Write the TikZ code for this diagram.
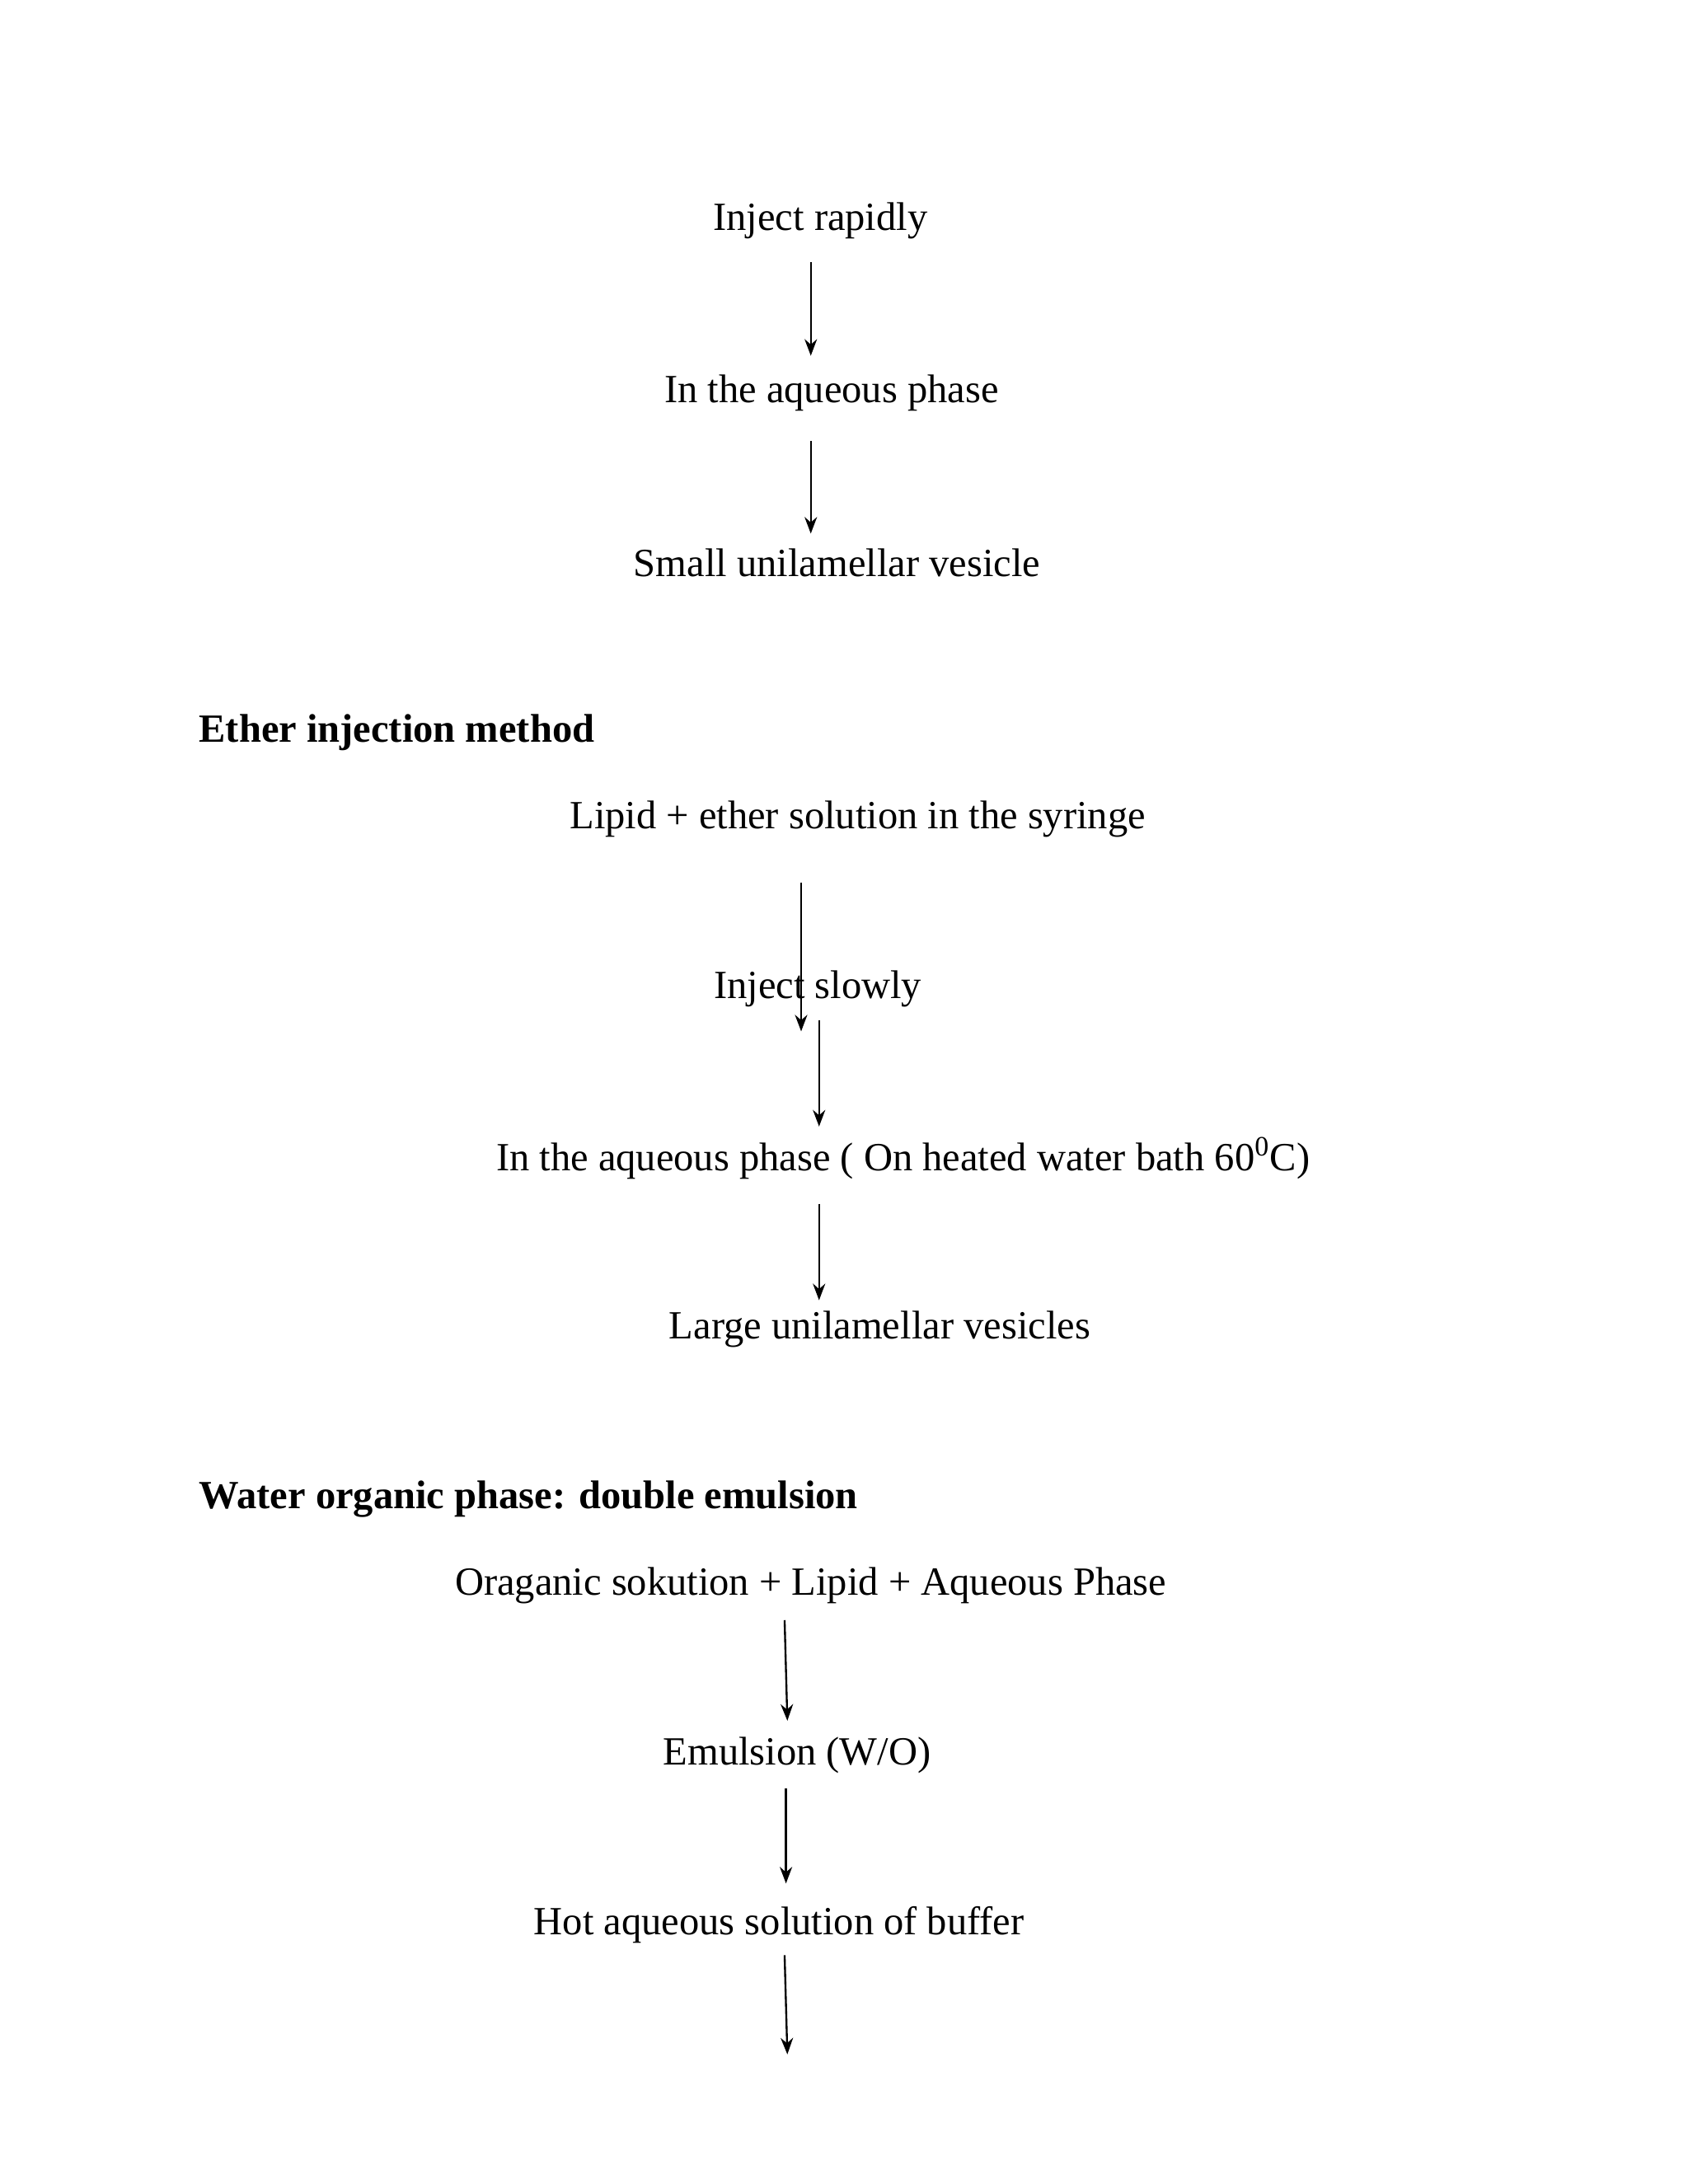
\documentclass[tikz,border=0pt]{standalone}
\usepackage{fontspec}
\setmainfont{Liberation Serif}
\usetikzlibrary{arrows.meta}
\begin{document}
\begin{tikzpicture}[x=0.5pt,y=-0.5pt,
  t/.style={inner sep=0pt,font=\fontsize{14.5}{17}\selectfont},
  h/.style={t,anchor=west,font=\fontsize{14.5}{17}\selectfont\bfseries},
  ar/.style={line width=0.7pt,-{Stealth[length=6pt,width=4.5pt]}}]
\useasboundingbox (0,0) rectangle (1224,1584);
\node[t] (a1) at (595,160) {Inject rapidly};
\node[t] (a2) at (603,285) {In the aqueous phase};
\node[t] (a3) at (607,408) {Small unilamellar vesicle};
\node[h] (h1) at (144,531) {Ether injection method};
\node[t] (b1) at (622,594) {Lipid + ether solution in the syringe};
\node[t] (b2) at (593,717) {Inject slowly};
\node[t] (b3) at (655,840) {In the aqueous phase ( On heated water bath 60\textsuperscript{0}C)};
\node[t] (b4) at (638,964) {Large unilamellar vesicles};
\node[h] (h2) at (144,1087) {Water organic phase: double emulsion};
\node[t] (c1) at (588,1150) {Oraganic sokution + Lipid + Aqueous Phase};
\node[t] (c2) at (578,1273) {Emulsion (W/O)};
\node[t] (c3) at (565,1396) {Hot aqueous solution of buffer};
\coordinate (end) at (571,1490);
\draw[ar] (588,190) -- (588,258);
\draw[ar] (588,320) -- (588,387);
\draw[ar] (581,640) -- (581,748);
\draw[ar] (594,740) -- (594,817);
\draw[ar] (594,873) -- (594,943);
\draw[ar] (569,1175) -- (571,1248);
\draw[ar] (570,1297) -- (570,1366);
\draw[ar] (569,1418) -- (end);
\end{tikzpicture}
\end{document}
